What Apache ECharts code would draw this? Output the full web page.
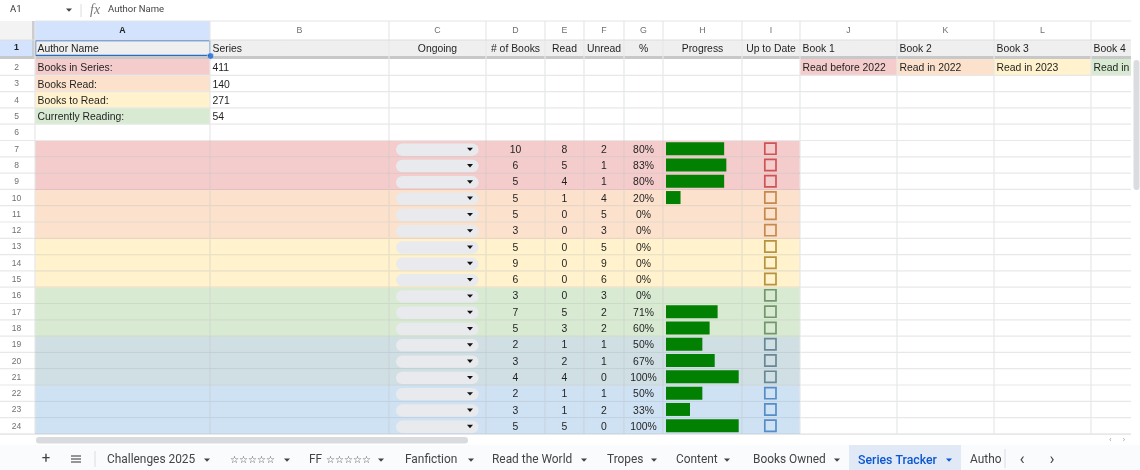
<!DOCTYPE html>
<html><head><meta charset="utf-8">
<style>html,body{margin:0;padding:0;background:#fff}#c{width:1140px;height:470px}</style>
<script src="https://cdn.jsdelivr.net/npm/echarts@6/dist/echarts.min.js"></script>
</head><body><div id="c"></div>
<script>
// ---- data ----
const columnLetters = ['A','B','C','D','E','F','G','H','I','J','K','L',''];
const headerRow = ['Author Name','Series','Ongoing','# of Books','Read','Unread','%','Progress','Up to Date','Book 1','Book 2','Book 3','Book 4'];
const summaryLabels = ['Books in Series:','Books Read:','Books to Read:','Currently Reading:'];
const summaryValues = ['411','140','271','54'];
const keyLabels = ['Read before 2022','Read in 2022','Read in 2023','Read in'];
const trackerRows = ['7','8','9','10','11','12','13','14','15','16','17','18','19','20','21','22','23','24'];
const numBooks = [10,6,5,5,5,3,5,9,6,3,7,5,2,3,4,2,3,5];
const readBooks = [8,5,4,1,0,0,0,0,0,0,5,3,1,2,4,1,1,5];
const unreadBooks = [2,1,1,4,5,3,5,9,6,3,2,2,1,1,0,1,2,0];
const percentRead = [80,83,80,20,0,0,0,0,0,0,71,60,50,67,100,50,33,100];
const sheetTabs = ['Challenges 2025','☆☆☆☆☆','FF ☆☆☆☆☆','Fanfiction','Read the World','Tropes','Content','Books Owned','Series Tracker','Autho'];

// ---- layout ----
const colEdges = [35,210,389,486,545,584,624,663,742,800,897,994,1091,1131];
const rowH = 16.3, row2Top = 59;
const rowTop = r => r === 1 ? 40 : row2Top + (r-2)*rowH;
const bandFill = ['#f4cccc','#fce2cc','#fff2cc','#d9ead3','#cfdfe4','#cfe2f3'];
const bandLine = ['#e6bfbf','#ecd5c0','#eee3c0','#cbdcc6','#c1d1d6','#c0d3e4'];
const bandBox  = ['#c4343a','#b9722a','#a47c1a','#578250','#4f7282','#3678bd'];
const keyFill = ['#f4cccc','#fce2cc','#fff2cc','#d9ead3'];
const tabX = [107,230,309,405,492,607,676,753,858,970];
const tabSize = [11.9,10,11.9,11.9,11.9,11.9,11.9,11.9,12.3,11.9];
const tabArrowX = [207,287,381,471,584,654,727,837,949];
const FONT = '"Liberation Sans",Arial,sans-serif', UI = 'Roboto,"Noto Sans",sans-serif';

const rects=[], lines=[], texts=[], tris=[];
const R=(x0,y0,x1,y1,fill,r)=>rects.push({x0,y0,x1,y1,fill,r:r||0});
const L=(x0,y0,x1,y1,c,w)=>lines.push({x0,y0,x1,y1,c,w:w||1});
const T=(x,y,s,o)=>texts.push(Object.assign({x,y,s,size:10.4,color:'#1f1f1f',align:'left',font:FONT,weight:'normal'},o||{}));
const A=(x,y,c)=>tris.push({x,y,c:c||'#444'});

// top bar
T(10,10,'A1',{font:UI,size:9.5,color:'#333'});
A(69,10,'#444');
L(81,4,81,17,'#dadce0');
T(90,10.5,'fx',{font:'"Liberation Serif",serif',size:14,color:'#777',style:'italic'});
T(108,10,'Author Name',{font:UI,size:9.5,color:'#444'});
// column header strip
R(0,21,35,40,'#f3f3f3');
R(35,21,210,40,'#d3e3fd');
R(35,40,1131,56,'#efefef');
R(0,40,33,56,'#d3e3fd');
// coloured body
for(let i=0;i<trackerRows.length;i++){
  const b=Math.floor(i/3);
  R(35,rowTop(i+7),800,rowTop(i+8),bandFill[b]);
}
summaryLabels.forEach((s,i)=>R(35,rowTop(i+2),210,rowTop(i+3),keyFill[i]));
keyLabels.forEach((s,i)=>R(colEdges[i+9],59,colEdges[i+10],rowTop(3),keyFill[i]));
// grid lines
for(let r=3;r<=25;r++) L(0,rowTop(r),1131,rowTop(r),'#e8e8e8',1.2);
colEdges.slice(0,-1).forEach(x=>L(x,21,x,rowTop(25),'#e6e7e7',1.2));
L(35,21,1131,21,'#e3e4e6');
L(0,40,1131,40,'#dedede');
for(let i=0;i<trackerRows.length;i++){
  const b=Math.floor(i/3), y0=rowTop(i+7), y1=rowTop(i+8);
  L(35,y1,800,y1,bandLine[b],1.2);
  colEdges.slice(1,9).forEach(x=>L(x,y0,x,y1,bandLine[b],1.2));
}
// freeze bars
R(32,21,35,59,'#cbcdd0');
R(0,56,1131,59,'#c6c8ca');
// selection
R(35,40,210,41.2,'#2a6cc4'); R(35,54.8,210,56,'#2a6cc4'); R(35,40,36.2,56,'#2a6cc4'); R(209.2,40,210.4,56,'#2a6cc4');
// letters + headers
columnLetters.forEach((s,i)=>{
  const cx=(colEdges[i]+colEdges[i+1])/2;
  T(cx,30.5,s,{align:'center',size:8.8,color:i?'#707070':'#1f1f1f',weight:i?'normal':'bold'});
});
headerRow.forEach((s,i)=>{
  const cx=(colEdges[i]+colEdges[i+1])/2;
  const centered=i>=2&&i<=8;
  T(centered?cx:colEdges[i]+2.5,49,s,{align:centered?'center':'left'});
});
// row numbers
T(16.5,48,'1',{align:'center',size:8.8,color:'#1f1f1f',weight:'bold'});
for(let r=2;r<=24;r++) T(16.5,rowTop(r)+8.8,String(r),{align:'center',size:8.5,color:'#707070'});
// summary
summaryLabels.forEach((s,i)=>{T(37.5,rowTop(i+2)+9.6,s);T(212.5,rowTop(i+2)+9.6,summaryValues[i]);});
keyLabels.forEach((s,i)=>T(colEdges[i+9]+2.5,68.6,s));
// tracker cells
trackerRows.forEach((s,i)=>{
  const y0=rowTop(i+7), m=y0+rowH/2+1.2;
  R(396,y0+3,478.6,y0+15.4,'#e8eaed',6.2);
  A(470,y0+8.8,'#111');
  const col=(k,t)=>T((colEdges[k]+colEdges[k+1])/2,m,String(t),{align:'center'});
  col(3,numBooks[i]);col(4,readBooks[i]);col(5,unreadBooks[i]);col(6,percentRead[i]+'%');
});
// bottom
R(0,434.8,1140,445,'#ffffff');
L(0,434.5,1131,434.5,'#e8e8e8',1.2);
R(36,437,468,443.5,'#d9dbdf',3);
T(1110.5,440,'‹',{size:7,color:'#999',align:'center'});
T(1124,440,'›',{size:7,color:'#999',align:'center'});
R(0,445,1140,470,'#f9fbfd');
T(46,459.5,'+',{font:UI,size:15,color:'#444',align:'center'});
[-3,0,3].forEach(d=>L(71,459+d,81,459+d,'#444',1.1));
L(95,451,95,467,'#dadce0');
R(849,445,961,470,'#e1e9f7');
sheetTabs.forEach((s,i)=>{
  const active=i===8;
  const o={font:UI,size:tabSize[i],color:active?'#0b57d0':'#444',weight:active?'500':'normal'};
  if(s.includes(' ☆')){
    const parts=s.split(' ');
    T(tabX[i],460.5,parts[0],o);
    T(tabX[i]+17,460.5,parts[1],Object.assign({},o,{size:10}));
  } else T(tabX[i],460.5,s,o);
  if(i<tabArrowX.length) A(tabArrowX[i],460,active?'#0b57d0':'#444');
});
L(1005,449,1005,468,'#dadce0');
T(1022,459.5,'‹',{font:UI,size:17,color:'#444',align:'center'});
T(1052,459.5,'›',{font:UI,size:17,color:'#444',align:'center'});
// vertical scrollbar
R(1133.5,60,1139.5,190,'#dadce0',3);

const box4 = l => l.map(d=>[d.x0,d.y0,d.x1,d.y1]);
const chart = echarts.init(document.getElementById('c'));
chart.setOption({
  animation:false,
  backgroundColor:'#fff',
  grid:[
    {left:0,top:0,width:1140,height:470,containLabel:false},
    {left:666,top:rowTop(7),width:72.7,height:rowTop(25)-rowTop(7),containLabel:false}
  ],
  xAxis:[
    {type:'value',gridIndex:0,min:0,max:1140,show:false},
    {type:'value',gridIndex:1,min:0,max:100,show:false},
  ],
  yAxis:[
    {type:'value',gridIndex:0,min:0,max:470,inverse:true,show:false},
    {type:'category',gridIndex:1,data:trackerRows,inverse:true,show:false},
  ],
  series:[
    {type:'custom',xAxisIndex:0,yAxisIndex:0,z:1,silent:true,clip:false,data:box4(rects),encode:{x:[0,2],y:[1,3]},
     renderItem:(p,api)=>{const d=rects[p.dataIndex];const a=api.coord([d.x0,d.y0]),b=api.coord([d.x1,d.y1]);
       return {type:'rect',shape:{x:a[0],y:a[1],width:b[0]-a[0],height:b[1]-a[1],r:d.r},style:{fill:d.fill}};}},
    {type:'bar',name:'Progress',xAxisIndex:1,yAxisIndex:1,z:3,data:percentRead,barWidth:13,itemStyle:{color:'#018001'},silent:true},
    {type:'scatter',name:'Up to Date',xAxisIndex:1,yAxisIndex:1,z:3,silent:true,symbol:'rect',symbolSize:11.2,clip:false,
     data:trackerRows.map((r,i)=>({value:[0,r],itemStyle:{color:'rgba(0,0,0,0)',borderColor:bandBox[Math.floor(i/3)],borderWidth:1.7}})),
     symbolOffset:[770.4-666,0]},
    {type:'custom',xAxisIndex:0,yAxisIndex:0,z:4,silent:true,clip:false,data:tris.map(d=>[d.x,d.y]),encode:{x:0,y:1},
     renderItem:(p,api)=>{const d=tris[p.dataIndex];const a=api.coord([d.x,d.y]);
       return {type:'polygon',shape:{points:[[a[0]-3,a[1]-1.6],[a[0]+3,a[1]-1.6],[a[0],a[1]+1.8]]},style:{fill:d.c}};}},
    {type:'custom',xAxisIndex:0,yAxisIndex:0,z:2,silent:true,clip:false,data:box4(lines),encode:{x:[0,2],y:[1,3]},
     renderItem:(p,api)=>{const d=lines[p.dataIndex];const a=api.coord([d.x0,d.y0]),b=api.coord([d.x1,d.y1]);
       return {type:'line',shape:{x1:a[0],y1:a[1],x2:b[0],y2:b[1]},style:{stroke:d.c,lineWidth:d.w}};}},
    {type:'scatter',xAxisIndex:0,yAxisIndex:0,z:6,silent:true,symbolSize:6.5,data:[[210.5,56]],itemStyle:{color:'#1a66d0',borderColor:'#fff',borderWidth:.6}},
    {type:'custom',xAxisIndex:0,yAxisIndex:0,z:5,silent:true,clip:false,data:texts.map(d=>[d.x,d.y]),encode:{x:0,y:1},
     renderItem:(p,api)=>{const d=texts[p.dataIndex];const a=api.coord([d.x,d.y]);
       return {type:'text',x:a[0],y:a[1],style:{text:d.s,fill:d.color,align:d.align,verticalAlign:'middle',
         font:(d.style?d.style+' ':'')+d.weight+' '+d.size+'px '+d.font}};}},
  ]
});
</script></body></html>
